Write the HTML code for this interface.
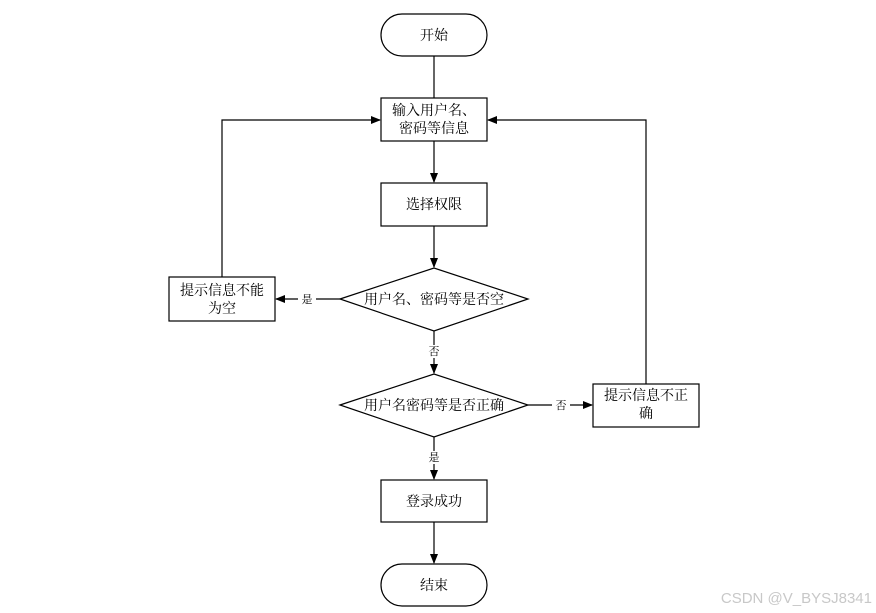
<!DOCTYPE html>
<html><head><meta charset="utf-8"><style>
html,body{margin:0;padding:0;background:#fff;width:876px;height:613px;overflow:hidden}
svg text{font-family:"Liberation Serif","Noto Serif CJK SC","Noto Sans CJK SC",serif;font-size:14px;fill:#000}
</style></head><body>
<svg width="876" height="613" xmlns="http://www.w3.org/2000/svg">
<defs><marker id="a" markerWidth="10" markerHeight="8" refX="9" refY="4" orient="auto" markerUnits="userSpaceOnUse"><path d="M0,0 L10,4 L0,8 z" fill="#000"/></marker></defs>
<g stroke="#000" stroke-width="1.2" fill="#fff">
<rect x="381" y="14" width="106" height="42" rx="21"/>
<rect x="381" y="98" width="106" height="43"/>
<rect x="381" y="183" width="106" height="43"/>
<polygon points="340,299 434,268 528,299 434,331"/>
<rect x="169" y="277" width="106" height="44"/>
<polygon points="340,405 434,374 528,405 434,437"/>
<rect x="593" y="384" width="106" height="43"/>
<rect x="381" y="480" width="106" height="42"/>
<rect x="381" y="564" width="106" height="42" rx="21"/>
</g>
<g stroke="#000" stroke-width="1.2" fill="none">
<line x1="434" y1="56" x2="434" y2="98"/>
<line x1="434" y1="141" x2="434" y2="182" marker-end="url(#a)"/>
<line x1="434" y1="226" x2="434" y2="267" marker-end="url(#a)"/>
<line x1="340" y1="299" x2="316" y2="299"/>
<line x1="298" y1="299" x2="276" y2="299" marker-end="url(#a)"/>
<line x1="434" y1="331" x2="434" y2="345"/>
<line x1="434" y1="358" x2="434" y2="373" marker-end="url(#a)"/>
<line x1="528" y1="405" x2="552" y2="405"/>
<line x1="570" y1="405" x2="592" y2="405" marker-end="url(#a)"/>
<line x1="434" y1="437" x2="434" y2="451"/>
<line x1="434" y1="464" x2="434" y2="479" marker-end="url(#a)"/>
<line x1="434" y1="522" x2="434" y2="563" marker-end="url(#a)"/>
<polyline points="222,277 222,120 380,120" marker-end="url(#a)"/>
<polyline points="646,384 646,120 488,120" marker-end="url(#a)"/>
</g>
<text x="434" y="40" text-anchor="middle">开始</text>
<text x="434" y="115" text-anchor="middle">输入用户名、</text>
<text x="434" y="133" text-anchor="middle">密码等信息</text>
<text x="434" y="209" text-anchor="middle">选择权限</text>
<text x="434" y="304" text-anchor="middle">用户名、密码等是否空</text>
<text x="222" y="295" text-anchor="middle">提示信息不能</text>
<text x="222" y="313" text-anchor="middle">为空</text>
<text x="307" y="303" text-anchor="middle" style="font-size:11px">是</text>
<text x="434" y="355" text-anchor="middle" style="font-size:11px">否</text>
<text x="434" y="410" text-anchor="middle">用户名密码等是否正确</text>
<text x="561" y="409" text-anchor="middle" style="font-size:11px">否</text>
<text x="646" y="400" text-anchor="middle">提示信息不正</text>
<text x="646" y="418" text-anchor="middle">确</text>
<text x="434" y="461" text-anchor="middle" style="font-size:11px">是</text>
<text x="434" y="506" text-anchor="middle">登录成功</text>
<text x="434" y="590" text-anchor="middle">结束</text>
<text x="872" y="603" text-anchor="end" style="font-family:'Liberation Sans',sans-serif;font-size:15px;fill:#c8c8c8">CSDN @V_BYSJ8341</text>
</svg>
</body></html>
